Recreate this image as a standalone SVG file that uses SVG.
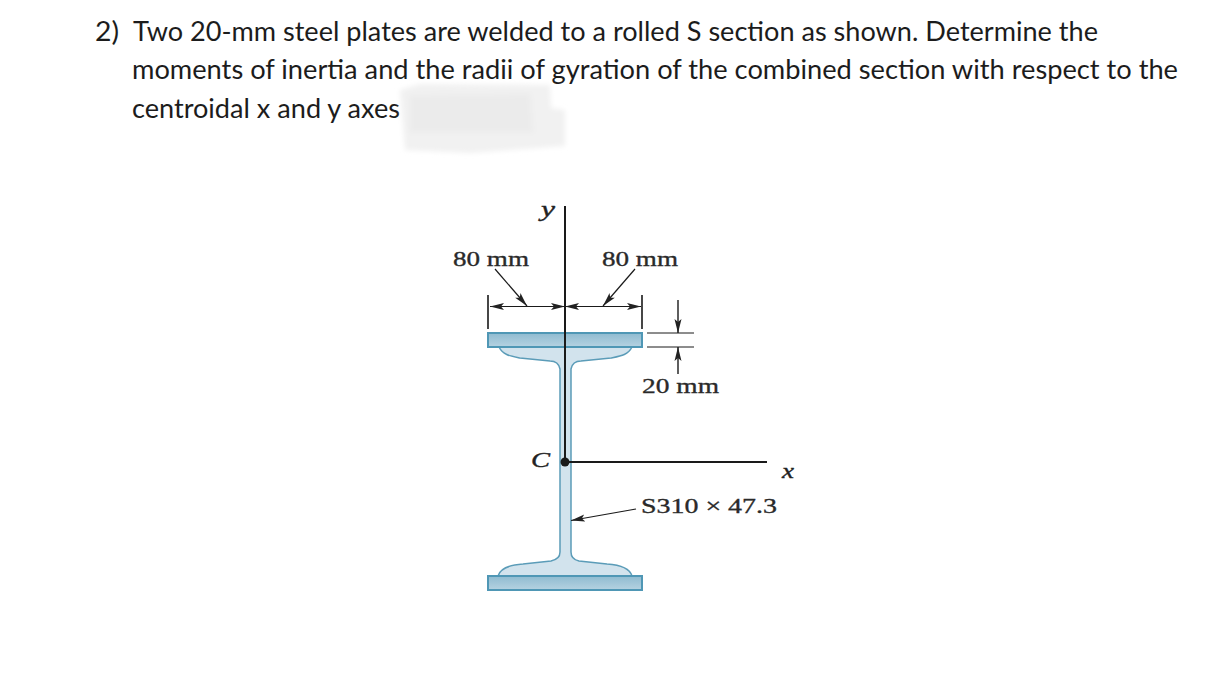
<svg xmlns="http://www.w3.org/2000/svg" width="1212" height="694" viewBox="0 0 1212 694">
<style>
.p{font-family:Lato,"Open Sans",sans-serif;font-size:27px;fill:#1c1c1c}
.d{font-family:"Liberation Serif",serif;font-size:22px;fill:#2a2a2a;stroke:#2a2a2a;stroke-width:.35}
.i{font-family:"Liberation Serif",serif;font-size:20px;font-style:italic;fill:#222;stroke:#222;stroke-width:.35}
.k{stroke:#1a1a1a;fill:none}
.s{fill:#d2e3ed;stroke:#5b9cb8;stroke-width:1.5}
.f{fill:url(#g);stroke:#4f97b5;stroke-width:2}
</style>
<defs>
<linearGradient id="g" x1="0" y1="0" x2="0" y2="1"><stop offset="0" stop-color="#8fbbd0"/><stop offset="1" stop-color="#b5d2e1"/></linearGradient>
<marker id="a" markerWidth="15" markerHeight="8" refX="14" refY="4" orient="auto-start-reverse" markerUnits="userSpaceOnUse"><path d="M0 0.500L14 4L0 7.500L3 4Z" fill="#222"/></marker>
<filter id="b"><feGaussianBlur stdDeviation="2.500"/></filter>
</defs>
<g id="problem-text">
<text class="p" x="95" y="41" textLength="24" lengthAdjust="spacingAndGlyphs">2)</text>
<text class="p" x="133" y="41" textLength="965" lengthAdjust="spacingAndGlyphs">Two 20-mm steel plates are welded to a rolled S section as shown. Determine the</text>
<text class="p" x="132" y="79" textLength="1046" lengthAdjust="spacingAndGlyphs">moments of inertia and the radii of gyration of the combined section with respect to the</text>
<text class="p" x="132" y="118" textLength="268" lengthAdjust="spacingAndGlyphs">centroidal x and y axes</text>
</g>
<g id="erasure" filter="url(#b)">
<path d="M400 90L420 84L550 85L551 108L565 110L565 146L470 153L405 150Z" fill="#f1f1f1"/>
<path d="M410 96L530 94L533 132L410 132Z" fill="#ebebeb"/>
</g>
<g id="section">
<path class="s" d="M499 347C503 355 510 356 520 358L550 361C556 361 559 364 560 369L560 552C560 558 556 560 551 561L523 564C508 565 500 569 498 576L632 576C630 569 622 565 607 564L579 561C574 560 571 558 571 552L571 369C572 364 575 361 581 361L611 358C621 356 628 355 632 347Z"/>
<rect id="top-plate" class="f" x="488" y="333" width="154" height="14"/>
<rect id="bottom-plate" class="f" x="488" y="576" width="154" height="14"/>
</g>
<g id="connectors">
<path class="k" stroke-width="2" d="M565 206V462M565 462H767"/>
<path class="k" stroke-width="1.600" d="M488 295V329M642 295V329"/>
<path class="k" stroke-width="1" d="M647 333H694M647 347H694"/>
<path class="k" stroke-width="1" d="M490 306.500H565" marker-start="url(#a)" marker-end="url(#a)"/>
<path class="k" stroke-width="1" d="M565 306.500H641" marker-start="url(#a)" marker-end="url(#a)"/>
<path class="k" stroke-width="1.400" d="M678 300V333" marker-end="url(#a)"/>
<path class="k" stroke-width="1.400" d="M678 374V347" marker-end="url(#a)"/>
<path class="k" stroke-width="1.200" d="M495 269L527 306" marker-end="url(#a)"/>
<path class="k" stroke-width="1.200" d="M635 269L603 306" marker-end="url(#a)"/>
<path class="k" stroke-width="1.200" d="M636 509L571 520.500" marker-end="url(#a)"/>
<circle cx="565" cy="462" r="4.500" fill="#1a1a1a"/>
</g>
<g id="labels">
<text class="d" x="453" y="266" textLength="76" lengthAdjust="spacingAndGlyphs">80 mm</text>
<text class="d" x="602" y="266" textLength="76" lengthAdjust="spacingAndGlyphs">80 mm</text>
<text class="d" x="642" y="393" textLength="77" lengthAdjust="spacingAndGlyphs">20 mm</text>
<text class="d" x="641" y="513" textLength="136" lengthAdjust="spacingAndGlyphs">S310 × 47.3</text>
<text class="i" x="541" y="216" textLength="14" lengthAdjust="spacingAndGlyphs">y</text>
<text class="i" x="531" y="467" textLength="19" lengthAdjust="spacingAndGlyphs">C</text>
<text class="i" x="782" y="478" textLength="12" lengthAdjust="spacingAndGlyphs">x</text>
</g>
</svg>
